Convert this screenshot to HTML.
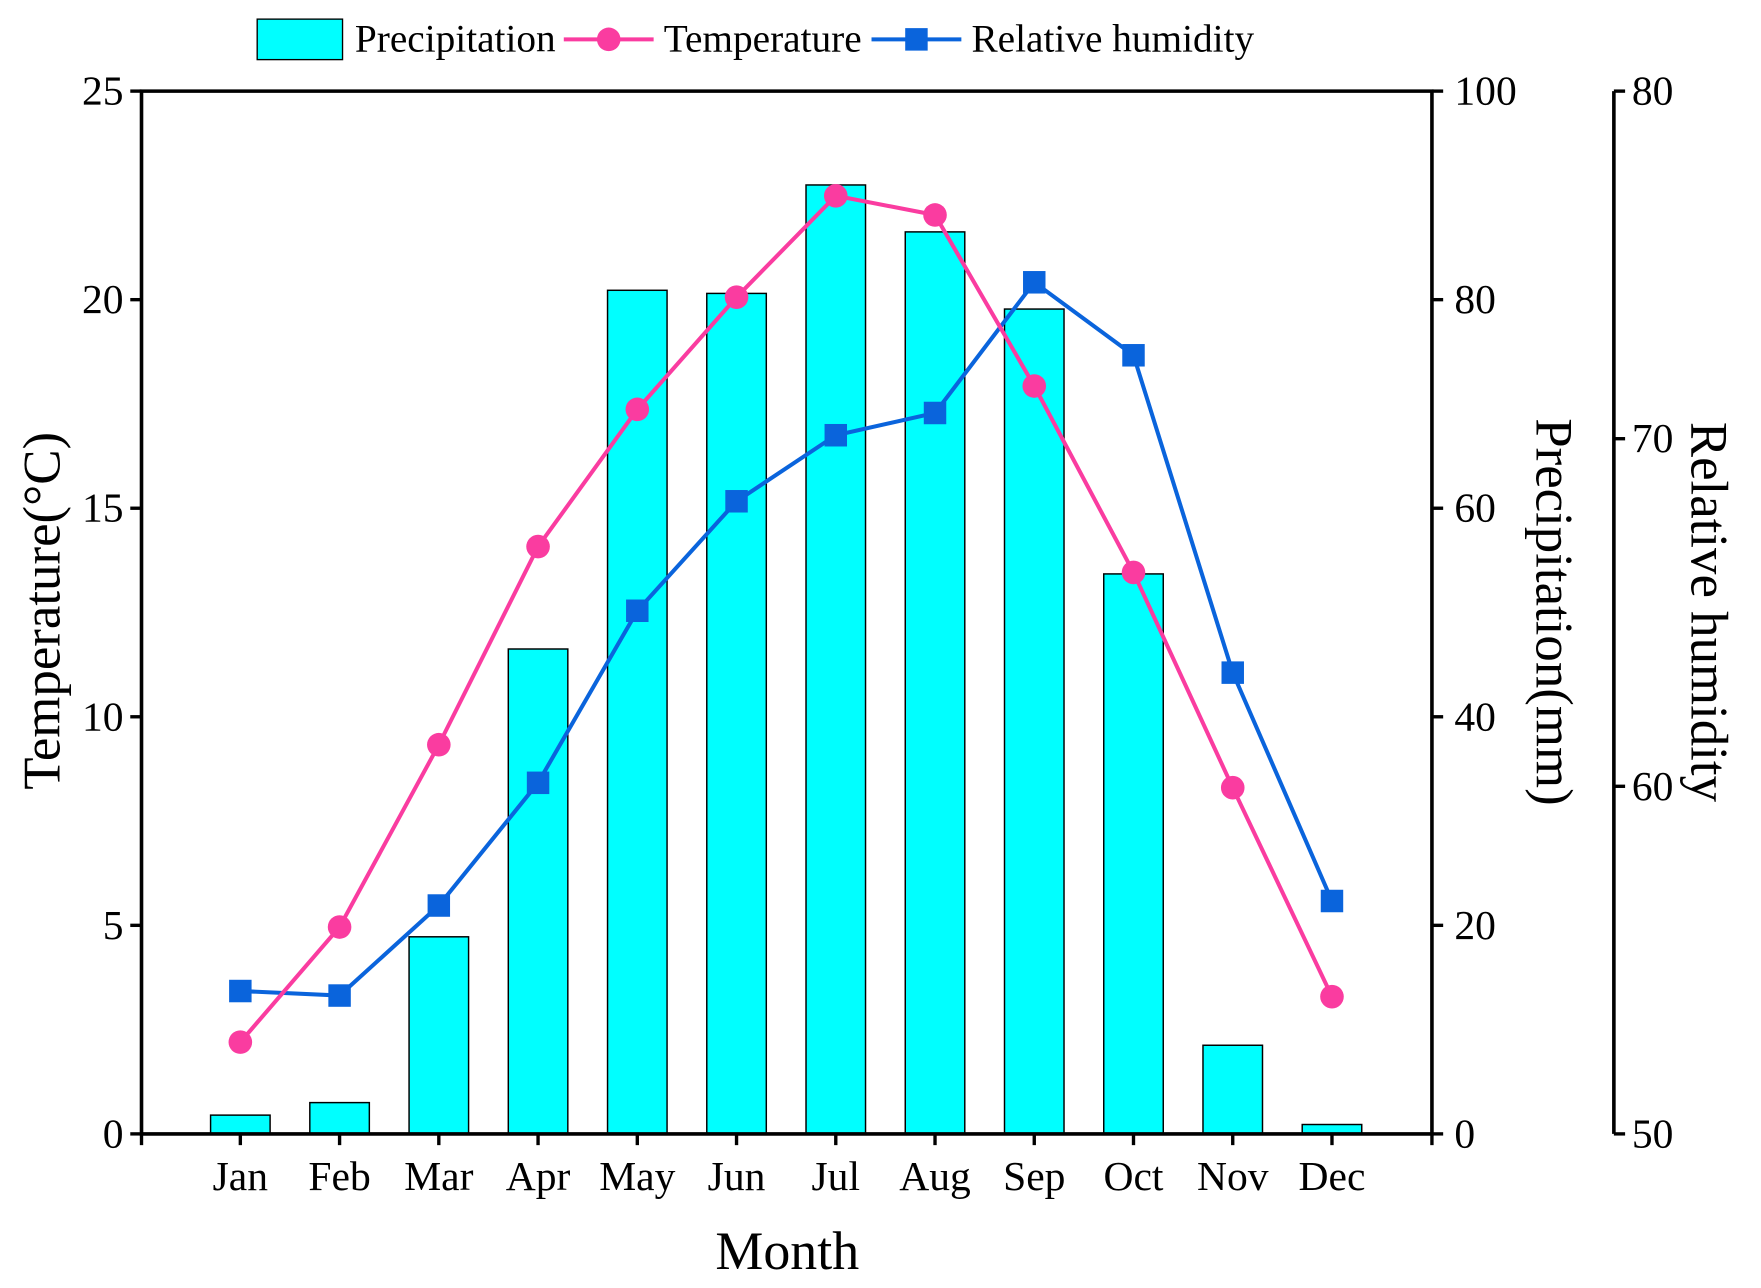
<!DOCTYPE html>
<html><head><meta charset="utf-8"><style>html,body{margin:0;padding:0;background:#fff}svg{display:block}text{font-family:"Liberation Serif",serif;fill:#000}</style></head>
<body>
<svg id="chart" width="1761" height="1288" viewBox="0 0 1568 1145" preserveAspectRatio="none" xmlns="http://www.w3.org/2000/svg"></svg>
<script>
const months=["Jan","Feb","Mar","Apr","May","Jun","Jul","Aug","Sep","Oct","Nov","Dec"];
const precipitation=[1.8,3.0,18.9,46.5,80.9,80.6,91.0,86.5,79.1,53.7,8.5,0.9];
const temperature=[2.2,4.96,9.33,14.08,17.37,20.06,22.49,22.03,17.93,13.46,8.3,3.29];
const humidity=[54.11,53.98,56.57,60.1,65.05,68.2,70.1,70.74,74.5,72.4,63.27,56.7];
const tempTicks=[0,5,10,15,20,25];
const precTicks=[0,20,40,60,80,100];
const rhTicks=[50,60,70,80];

const svg=document.getElementById('chart');const NS="http://www.w3.org/2000/svg";
function el(t,a,p){const e=document.createElementNS(NS,t);for(const k in a)e.setAttribute(k,a[k]);(p||svg).appendChild(e);return e;}
const L=126,R=1275,T=81,B=1008,R2=1437;
const xS=i=>214+i*(1186-214)/11;
const yT=v=>B-(v/25)*(B-T);
const yP=v=>B-(v/100)*(B-T);
const yH=v=>B-((v-50)/30)*(B-T);
const TF=37;

precipitation.forEach((v,i)=>{const r=el('rect',{x:xS(i)-26.5,y:yP(v),width:53,height:B-yP(v),fill:'#00ffff',stroke:'#000','stroke-width':1.3});

});

const ax=el('path',{d:`M${L},${T}H${R}V${B}H${L}Z`,fill:'none',stroke:'#000','stroke-width':3.2});

const a3=el('line',{x1:R2,y1:T,x2:R2,y2:B,stroke:'#000','stroke-width':3.2});

tempTicks.forEach(v=>{el('line',{x1:L-10,x2:L,y1:yT(v),y2:yT(v),stroke:'#000','stroke-width':3});
const t=el('text',{x:L-16,y:yT(v)+12,'text-anchor':'end','font-size':TF});t.textContent=v;
});
precTicks.forEach(v=>{el('line',{x1:R,x2:R+10,y1:yP(v),y2:yP(v),stroke:'#000','stroke-width':3});
const t=el('text',{x:R+20,y:yP(v)+12,'font-size':TF});t.textContent=v;
});
rhTicks.forEach(v=>{el('line',{x1:R2,x2:R2+10,y1:yH(v),y2:yH(v),stroke:'#000','stroke-width':3});
const t=el('text',{x:R2+16,y:yH(v)+12,'font-size':TF});t.textContent=v;
});
months.forEach((m,i)=>{el('line',{x1:xS(i),x2:xS(i),y1:B,y2:B+10,stroke:'#000','stroke-width':3});
const t=el('text',{x:xS(i),y:B+50,'text-anchor':'middle','font-size':TF});t.textContent=m;
});
el('line',{x1:L,x2:L,y1:B,y2:B+10,stroke:'#000','stroke-width':3});
el('line',{x1:R,x2:R,y1:B,y2:B+10,stroke:'#000','stroke-width':3});

function series(vals,yf,color,shape,name){
 const p=el('polyline',{points:vals.map((v,i)=>xS(i)+','+yf(v)).join(' '),fill:'none',stroke:color,'stroke-width':3.6});
 
 vals.forEach((v,i)=>{let m;if(shape==='c')m=el('circle',{cx:xS(i),cy:yf(v),r:10.5,fill:color});
 else m=el('rect',{x:xS(i)-10,y:yf(v)-10,width:20,height:20,fill:color});
 });
}
series(humidity,yH,'#0a64dc','s','humidity');
series(temperature,yT,'#fa3ca0','c','temperature');

function txt(s,a,name){const t=el('text',a);t.textContent=s;return t;}
txt('Month',{x:701,y:1128,'text-anchor':'middle','font-size':48},'x-axis-title');
txt('Temperature(°C)',{x:0,y:0,'text-anchor':'middle','font-size':47,transform:'translate(53,543) rotate(-90)'},'temp-axis-title');
txt('Precipitation(mm)',{x:0,y:0,'text-anchor':'middle','font-size':47,transform:'translate(1368,544) rotate(90)'},'precip-axis-title');
txt('Relative humidity',{x:0,y:0,'text-anchor':'middle','font-size':47,transform:'translate(1506,544) rotate(90)'},'humidity-axis-title');

const lg=el('g',{});
el('rect',{x:229,y:17,width:76,height:36,fill:'#00ffff',stroke:'#000','stroke-width':1.2},lg);
const t1=el('text',{x:316,y:46,'font-size':35},lg);t1.textContent='Precipitation';
el('line',{x1:502,x2:582,y1:35,y2:35,stroke:'#fa3ca0','stroke-width':3.6},lg);
el('circle',{cx:542,cy:35,r:10.5,fill:'#fa3ca0'},lg);
const t2=el('text',{x:591,y:46,'font-size':35},lg);t2.textContent='Temperature';
el('line',{x1:776,x2:856,y1:35,y2:35,stroke:'#0a64dc','stroke-width':3.6},lg);
el('rect',{x:806,y:25,width:20,height:20,fill:'#0a64dc'},lg);
const t3=el('text',{x:865,y:46,'font-size':35},lg);t3.textContent='Relative humidity';
</script>
</body></html>
